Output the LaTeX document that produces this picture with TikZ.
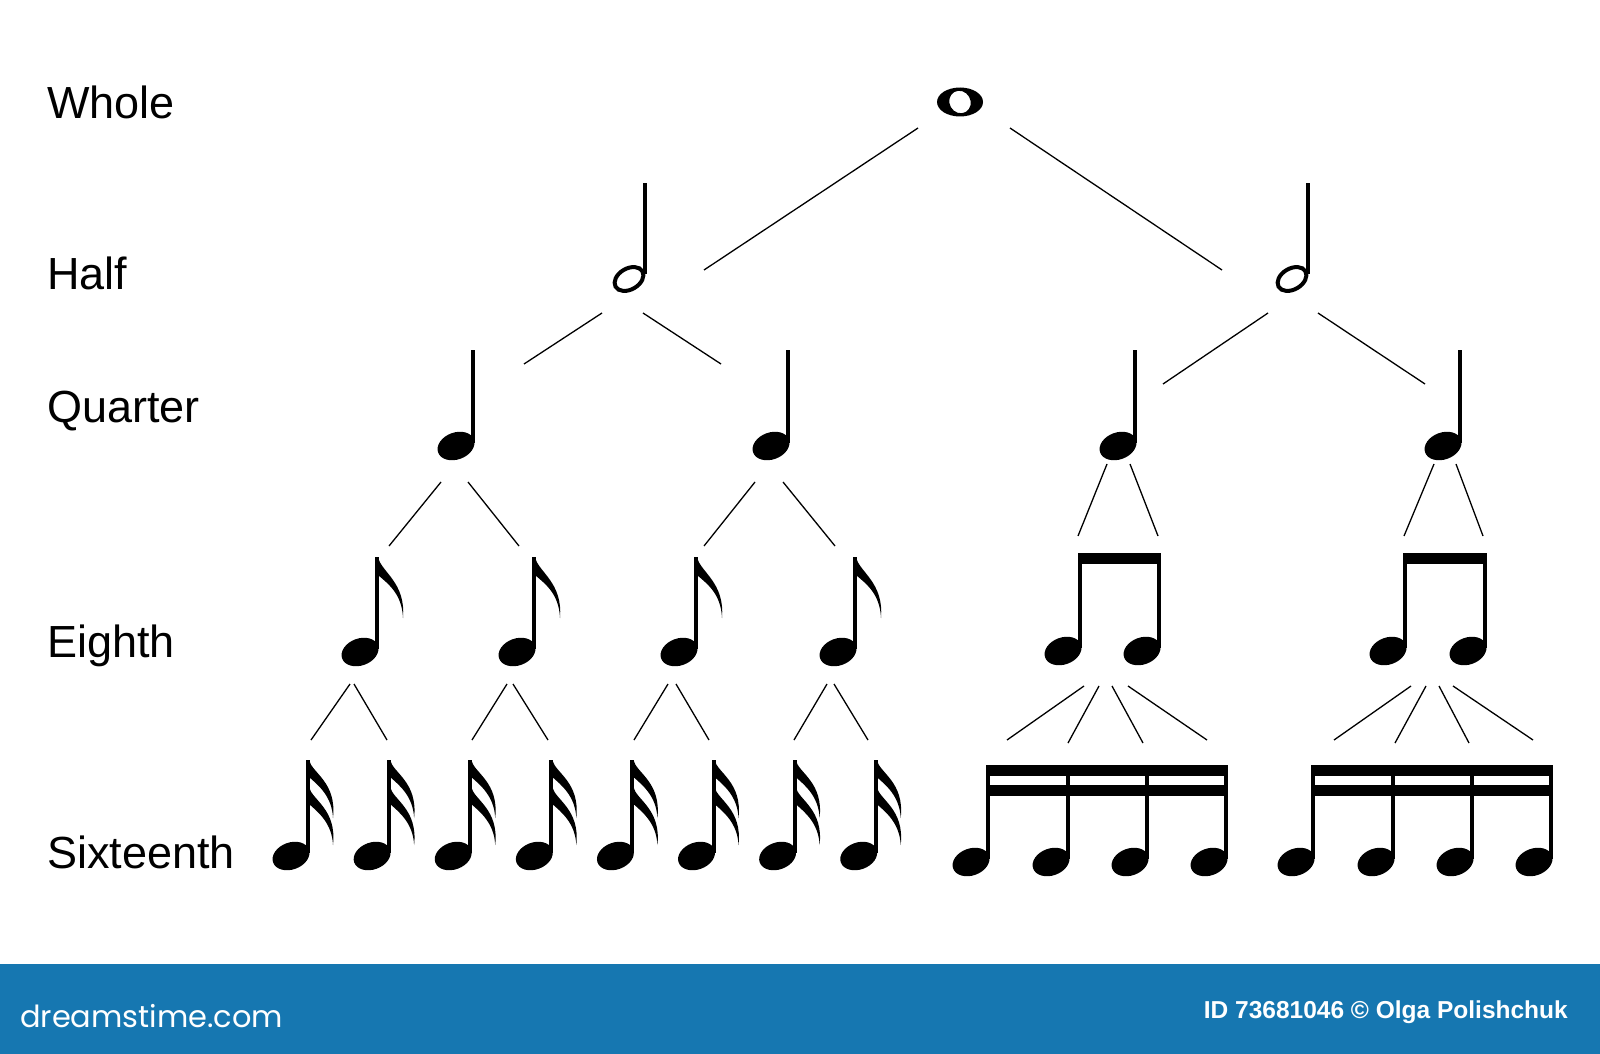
\documentclass[tikz,border=0pt]{standalone}
\usepackage{fontspec}
\usepackage{graphicx}
\setmainfont{Liberation Sans}
\newfontfamily\logofont{Poppins}
\definecolor{bannerblue}{RGB}{22,119,177}
\newcommand{\qhead}[2]{\fill (#1,#2) ellipse[x radius=19,y radius=13.5,rotate=20];}
\newcommand{\mystem}[3]{\fill (#1-4,#2) rectangle (#1,#3);}
\newcommand{\eflag}[2]{\fill (#1-1,#2) .. controls (#1+2,#2+15) and (#1+27,#2+25) .. (#1+24,#2+61) .. controls (#1+23,#2+36) and (#1+8,#2+26) .. (#1-1,#2+18) -- cycle;}
\newcommand{\sflag}[2]{%
  \fill (#1-1,#2) .. controls (#1+2,#2+13) and (#1+27,#2+22) .. (#1+23,#2+58) .. controls (#1+22,#2+36) and (#1+8,#2+25) .. (#1-1,#2+17) -- cycle;
  \fill (#1-1,#2+27) .. controls (#1+2,#2+40) and (#1+27,#2+49) .. (#1+23,#2+85) .. controls (#1+22,#2+63) and (#1+8,#2+52) .. (#1-1,#2+44) -- cycle;}
\tikzset{
  conn/.style={line width=1.3pt, black},
  rowlabel/.style={anchor=base west, inner sep=0pt, font=\fontsize{45}{54}\selectfont},
}
\begin{document}
\begin{tikzpicture}[x=1pt,y=-1pt]
\useasboundingbox (0,0) rectangle (1600,1054);
\fill[white] (0,0) rectangle (1600,1054);
% labels
\node[rowlabel] (lwhole) at (47,119) {Whole};
\node[rowlabel] (lhalf) at (47,289) {Half};
\node[rowlabel] (lquarter) at (47,422) {Quarter};
\node[rowlabel] (leighth) at (47,657) {Eighth};
\node[rowlabel] (lsixteenth) at (47,868) {Sixteenth};
% whole note
\fill[even odd rule] (960,102) ellipse[x radius=23,y radius=14.5] (960,102) ellipse[x radius=10.5,y radius=11.5,rotate=30];
% half notes
\foreach \R in {647,1310}{
  \mystem{\R}{183}{274}
  \draw[line width=4pt] (\R-18,279) ellipse[x radius=15.5,y radius=10.5,rotate=30];
}
% quarter notes
\foreach \R in {475,790,1137,1462}{
  \mystem{\R}{350}{443}
  \qhead{\R-19}{446}
}
% eighth notes with flags
\foreach \R in {379,536,698,857}{
  \mystem{\R}{557}{649}
  \eflag{\R}{557}
  \qhead{\R-19}{652}
}
% beamed eighths
\foreach \Ra/\Rb in {1082/1161,1407/1487}{
  \fill (\Ra-4,553) rectangle (\Rb,564);
  \foreach \R in {\Ra,\Rb}{
    \mystem{\R}{553}{648}
    \qhead{\R-19}{651}
  }
}
% sixteenth notes with flags
\foreach \i in {0,...,7}{
  \pgfmathsetmacro{\R}{310+81.1*\i}
  \mystem{\R}{760}{853}
  \sflag{\R}{760}
  \qhead{\R-19}{856}
}
% beamed sixteenths
\foreach \s in {0,325}{
  \fill (990+\s-4,765) rectangle (1228+\s,776);
  \fill (990+\s-4,785) rectangle (1228+\s,796);
  \foreach \R in {990,1070,1149,1228}{
    \mystem{\R+\s}{765}{859}
    \qhead{\R+\s-19}{862}
  }
}
% connectors
\foreach \a/\b/\c/\d [count=\i] in {
  918/128/704/270, 1010/128/1222/270,
  602/313/524/364, 643/313/721/364,
  1268/313/1163/384, 1318/313/1425/384,
  441/482/389/546, 468/482/519/546,
  755/482/704/546, 783/482/835/546,
  1107/464/1078/536, 1130/464/1158/536,
  1434/464/1404/536, 1456/464/1483/536,
  350/684/311/740, 354/684/387/740,
  507/684/472/740, 513/684/548/740,
  668/684/634/740, 676/684/709/740,
  827/684/794/740, 834/684/868/740,
  1084/686/1007/740, 1099/686/1068/743, 1112/686/1143/743, 1128/686/1207/740,
  1411/686/1334/740, 1426/686/1395/743, 1439/686/1469/743, 1453/686/1533/740}{
  \coordinate (s\i) at (\a,\b);
  \coordinate (e\i) at (\c,\d);
  \draw[conn] (s\i) -- (e\i);
}
% banner
\fill[bannerblue] (0,964) rectangle (1600,1054);
\node[anchor=base west, inner sep=0pt, text=white] (logo) at (20,1027) {\resizebox{263pt}{!}{\logofont dreamstime.com}};
\node[anchor=base east, inner sep=0pt, text=white, font=\fontsize{24.5}{29}\selectfont\bfseries] (credit) at (1568,1018) {ID 73681046 © Olga Polishchuk};
\end{tikzpicture}
\end{document}
